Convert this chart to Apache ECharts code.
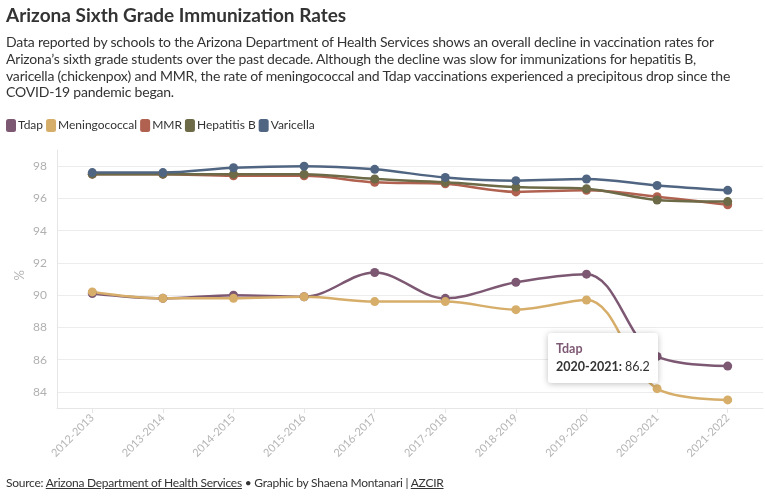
<!DOCTYPE html>
<html>
<head>
<meta charset="utf-8">
<script src="https://cdn.jsdelivr.net/npm/echarts@6/dist/echarts.min.js"></script>
<style>
  html, body { margin: 0; padding: 0; background: #fff; }
  body { width: 765px; height: 500px; position: relative; overflow: hidden; font-family: Lato, "Noto Sans", sans-serif; color: #333; }
  #title { position: absolute; left: 6px; top: 3px; font-size: 19px; line-height: 23px; font-weight: bold; color: #333; white-space: nowrap; }
  #sub { position: absolute; left: 6px; top: 34px; font-size: 14px; line-height: 16.8px; letter-spacing: -0.2px; color: #333; white-space: nowrap; }
  #foot { position: absolute; left: 6px; top: 476px; font-size: 12px; line-height: 14px; letter-spacing: -0.25px; color: #333; white-space: nowrap; }
  #foot u { text-decoration: underline; }
  #chart { position: absolute; left: 0; top: 0; width: 765px; height: 500px; }
</style>
</head>
<body>
<div id="chart"></div>
<div id="title">Arizona Sixth Grade Immunization Rates</div>
<div id="sub">Data reported by schools to the Arizona Department of Health Services shows an overall decline in vaccination rates for<br>Arizona’s sixth grade students over the past decade. Although the decline was slow for immunizations for hepatitis B,<br>varicella (chickenpox) and MMR, the rate of meningococcal and Tdap vaccinations experienced a precipitous drop since the<br>COVID-19 pandemic began.</div>
<div id="foot">Source: <u>Arizona Department of Health Services</u> • Graphic by Shaena Montanari | <u>AZCIR</u></div>
<script>
const categories = ["2012-2013","2013-2014","2014-2015","2015-2016","2016-2017","2017-2018","2018-2019","2019-2020","2020-2021","2021-2022"];
const tdap          = [90.1, 89.8, 90.0, 89.9, 91.4, 89.8, 90.8, 91.3, 86.2, 85.6];
const meningococcal = [90.2, 89.8, 89.8, 89.9, 89.6, 89.6, 89.1, 89.7, 84.2, 83.5];
const mmr           = [97.5, 97.5, 97.4, 97.4, 97.0, 96.9, 96.4, 96.5, 96.1, 95.6];
const hepatitisB    = [97.5, 97.5, 97.5, 97.5, 97.2, 97.0, 96.7, 96.6, 95.9, 95.8];
const varicella     = [97.6, 97.6, 97.9, 98.0, 97.8, 97.3, 97.1, 97.2, 96.8, 96.5];
const seriesNames = ["Tdap", "Meningococcal", "MMR", "Hepatitis B", "Varicella"];
const seriesData = [tdap, meningococcal, mmr, hepatitisB, varicella];
const colors = ["#7d5873", "#d6ae6a", "#b0614f", "#6c6a47", "#506581"];

const chart = echarts.init(document.getElementById('chart'), null, {renderer: 'canvas'});
const font = 'Lato, "Noto Sans", sans-serif';
chart.setOption({
  animation: false,
  textStyle: { fontFamily: font },
  color: colors,
  legend: {
    left: 1, top: 114,
    itemWidth: 10, itemHeight: 13, itemGap: 3,
    icon: 'roundRect',
    textStyle: { fontSize: 12, color: '#333', fontFamily: font, padding: [0, 0, 0, -3] },
    data: seriesNames
  },
  graphic: [{
    type: 'text',
    left: 13, top: 270,
    rotation: Math.PI / 2,
    style: { text: '%', fill: '#b5b5b5', font: '13px ' + font }
  }],
  grid: { left: 57, right: 2, top: 150, bottom: 92 },
  tooltip: {
    trigger: 'item',
    triggerOn: 'none',
    alwaysShowContent: true,
    backgroundColor: '#fff',
    borderColor: '#fff',
    borderWidth: 0,
    padding: [7, 8],
    extraCssText: 'box-shadow: 0 1px 6px rgba(0,0,0,0.25); border-radius: 3px;',
    textStyle: { fontFamily: font, fontSize: 12.5, color: '#333' },
    position: function (point) { return [point[0] - 109, point[1] - 23]; },
    formatter: function (p) {
      return '<div style="line-height:18px"><span style="color:' + p.color + ';font-weight:bold">' + p.seriesName +
        '</span><br><b>' + p.name + ':</b> ' + p.value + '</div>';
    }
  },
  xAxis: {
    type: 'category',
    data: categories,
    boundaryGap: true,
    axisLine: { lineStyle: { color: '#e6e6e6' } },
    axisTick: { show: true, alignWithLabel: true, lineStyle: { color: '#e6e6e6' } },
    axisLabel: { rotate: 45, color: '#b5b5b5', fontSize: 11, margin: 8, fontFamily: font },
    splitLine: { show: false }
  },
  yAxis: {
    type: 'value',
    min: 83, max: 99,
    splitNumber: 8,
    axisLine: { show: true, lineStyle: { color: '#e6e6e6' } },
    axisTick: { show: false },
    axisLabel: { color: '#b0b0b0', fontSize: 12, margin: 10, showMinLabel: false, showMaxLabel: false, fontFamily: font },
    splitLine: { show: true, showMinLine: false, showMaxLine: false, lineStyle: { color: '#ececec', width: 1 } }
  },
  series: seriesNames.map((n, i) => ({
    name: n,
    type: 'line',
    data: seriesData[i],
    smooth: 0.35,
    symbol: 'circle',
    symbolSize: 9,
    lineStyle: { width: 2.5 },
    itemStyle: { color: colors[i] },
    emphasis: { disabled: true }
  }))
});
chart.dispatchAction({ type: 'showTip', seriesIndex: 0, dataIndex: 8 });
</script>
</body>
</html>
